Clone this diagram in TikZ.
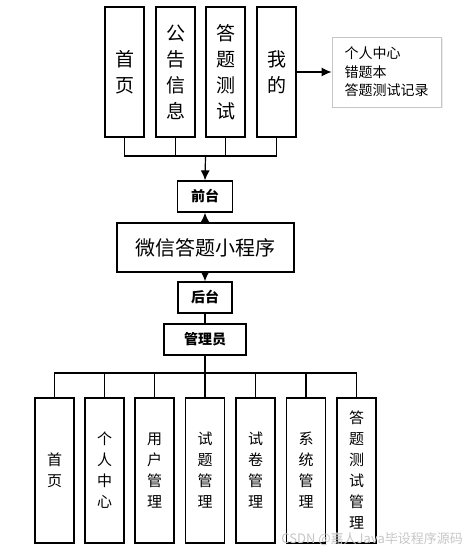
\documentclass[tikz,border=0pt]{standalone}
\usepackage{fontspec}
\newfontfamily\cjk{Noto Sans CJK SC}
\usetikzlibrary{arrows.meta,shadows}
\tikzset{
  box/.style={draw, line width=1.2pt, inner sep=0pt, align=center, font=\cjk},
  topcol/.style={box, minimum width=39pt, minimum height=130pt, font=\cjk\fontsize{19}{26}\selectfont},
  botcol/.style={box, minimum width=39pt, minimum height=145pt, font=\cjk\fontsize{15}{21}\selectfont},
  tag/.style={box, minimum height=31pt, font=\cjk\bfseries\fontsize{14}{16}\selectfont},
  conn/.style={line width=1.2pt},
  arr/.style={conn, -{Latex[length=10pt,width=9pt]}}
}

\begin{document}
\begin{tikzpicture}[x=1pt,y=-1pt]
  \useasboundingbox (0,0) rectangle (474,553);
  \node [topcol] (t1) at (124.5,72) {首\\页};
  \node [topcol] (t2) at (175.5,72) {公\\告\\信\\息};
  \node [topcol] (t3) at (225.5,72) {答\\题\\测\\试};
  \node [topcol] (t4) at (276.5,72) {我\\的};
  \node [draw=gray!45, line width=0.8pt, fill=white, drop shadow={opacity=0.15, shadow xshift=1.5pt, shadow yshift=-1.5pt},
         minimum width=109pt, minimum height=70pt, inner sep=0pt, align=left,
         font=\cjk\fontsize{14}{18.5}\selectfont] (mine) at (386.5,72) {个人中心\\错题本\\答题测试记录};
  \draw [arr] (t4.east) -- (mine.west);

  \coordinate (busT) at (205.5,156);
  \foreach \i in {1,...,4}
    \draw [conn] (t\i.south) |- (busT);

  \node [tag, minimum width=55pt] (front) at (205,196.5) {前台};
  \node [box, minimum width=177pt, minimum height=49pt, font=\cjk\fontsize{20}{24}\selectfont] (app) at (205.5,247.5) {微信答题小程序};
  \node [tag, minimum width=54pt] (back) at (205,297.5) {后台};
  \node [tag, minimum width=82pt] (admin) at (205,339.5) {管理员};

  \draw [arr] (busT) -- (front.north);
  \draw [arr] (app.north -| front) -- (front.south);
  \draw [arr] (app.south -| back) -- (back.north);
  \draw [conn] (back.south) -- (admin.north);

  \coordinate (busB) at (205,373);
  \draw [conn] (admin.south) -- (busB);
  \foreach \x/\t [count=\i] in {54.5/{首\\页}, 104.5/{个\\人\\中\\心}, 154.5/{用\\户\\管\\理},
      205/{试\\题\\管\\理}, 255.5/{试\\卷\\管\\理}, 306/{系\\统\\管\\理}, 356.5/{答\\题\\测\\试\\管\\理}} {
    \node [botcol] (b\i) at (\x,470.5) {\t};
    \draw [conn] (b\i.north) |- (busB);
  }

  \node [anchor=base east, text=gray!45, font=\cjk\fontsize{13}{15}\selectfont, inner sep=0pt] (mark) at (463,543) {CSDN @嘉人Java毕设程序源码};
\end{tikzpicture}
\end{document}
